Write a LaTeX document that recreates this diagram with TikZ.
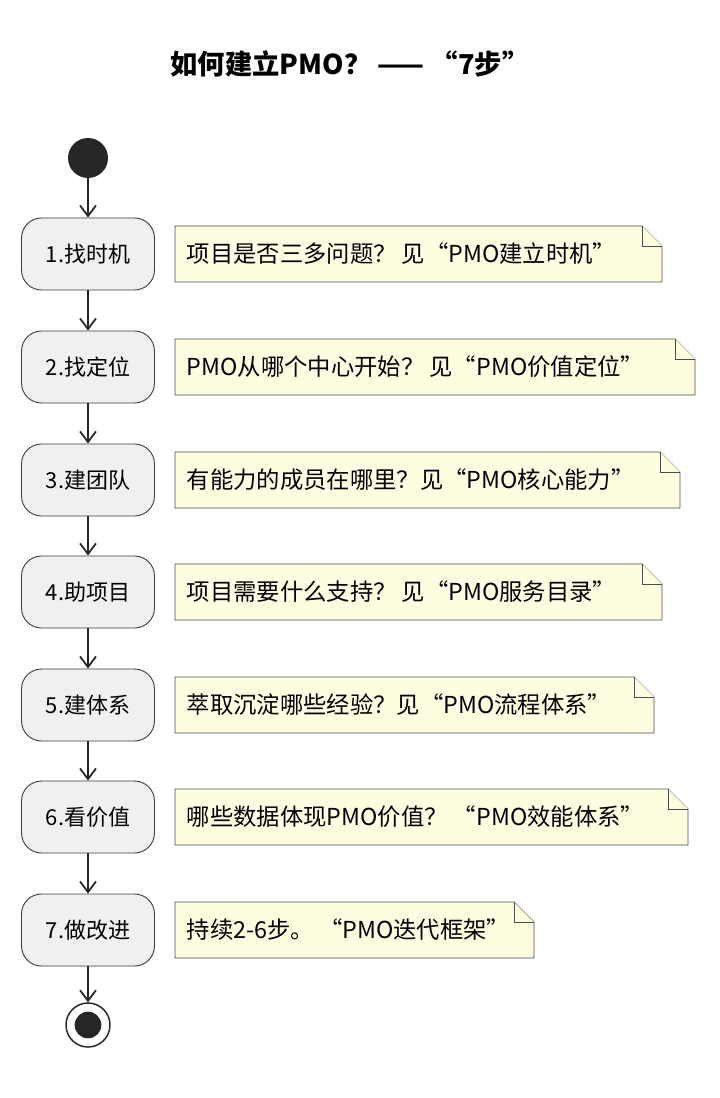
\documentclass[tikz,border=0pt]{standalone}
\usepackage{fontspec}
\setmainfont{Noto Sans CJK SC}
\begin{document}
\begin{tikzpicture}[x=0.75pt,y=-0.75pt,
 act/.style={draw=black!75,fill=black!6,rounded corners=15pt,minimum width=99.75pt,minimum height=54pt,font=\fontsize{16.5}{18}\selectfont,line width=0.7pt},
 arr/.style={draw=black!85,line width=1.3pt,-{Straight Barb[length=8pt,width=12pt]}}]
\usetikzlibrary{arrows.meta}
\useasboundingbox (0,0) rectangle (720,1098);
\node[font=\bfseries\fontsize{20.5}{22}\selectfont] (title) at (350,64) {如何建立PMO？ —— “7步”};
\node[circle,fill=black!85,minimum size=30pt,inner sep=0] (s) at (88,158) {};
\foreach \i/\t/\y/\r/\n in {1/1.找时机/254/662/项目是否三多问题？ 见“PMO建立时机”,
 2/2.找定位/367/695/PMO从哪个中心开始？ 见“PMO价值定位”,
 3/3.建团队/480/680/有能力的成员在哪里？见“PMO核心能力”,
 4/4.助项目/592/662/项目需要什么支持？ 见“PMO服务目录”,
 5/5.建体系/705/654/萃取沉淀哪些经验？见“PMO流程体系”,
 6/6.看价值/817/688/哪些数据体现PMO价值？ “PMO效能体系”,
 7/7.做改进/930/534/持续2-6步。 “PMO迭代框架”}{
 \node[act] (a\i) at (88,\y) {\t};
 \draw[black!70,fill=yellow!12,line width=0.6pt] (175,\y-28) -- (\r-20,\y-28) -- (\r,\y-8) -- (\r,\y+28) -- (175,\y+28) -- cycle;
 \draw[black!70,fill=yellow!12,line width=0.6pt] (\r-20,\y-28) -- (\r-20,\y-8) -- (\r,\y-8);
 \node[anchor=west,font=\fontsize{17.5}{19}\selectfont] (n\i) at (182,\y) {\n};
}
\node[circle,draw=black!85,line width=1.1pt,minimum size=33pt,inner sep=0] (e) at (88,1025) {};
\node[circle,fill=black!85,minimum size=20pt,inner sep=0] at (e) {};
\draw[arr] (s) -- (a1);
\foreach \i/\j in {1/2,2/3,3/4,4/5,5/6,6/7} \draw[arr] (a\i) -- (a\j);
\draw[arr] (a7) -- (e);
\end{tikzpicture}
\end{document}
